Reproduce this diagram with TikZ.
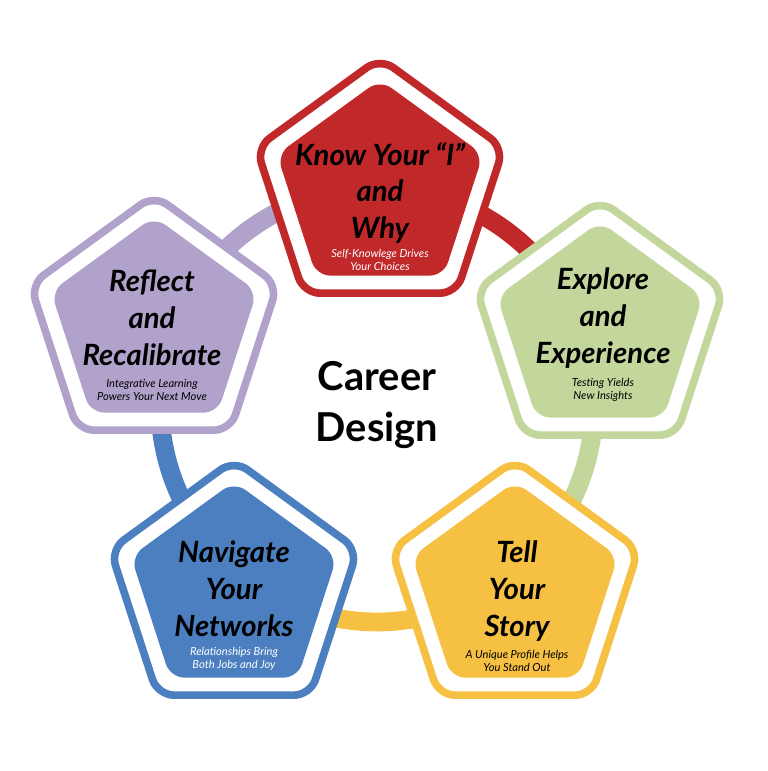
\documentclass[tikz,border=0pt]{standalone}
\usepackage{fontspec}
\setmainfont{Lato}
\usetikzlibrary{shapes.geometric}
\definecolor{knowred}{HTML}{C0282A}
\definecolor{exgreen}{HTML}{C3D79D}
\definecolor{tellyellow}{HTML}{F6C143}
\definecolor{navblue}{HTML}{4B7FC0}
\definecolor{refpurple}{HTML}{B1A2CB}
\tikzset{
  ring/.style={line width=16pt},
  petalout/.style={regular polygon,regular polygon sides=5,rounded corners=14pt,line width=6.5pt,fill=white,minimum size=7.8cm,inner sep=0pt},
  petalin/.style={regular polygon,regular polygon sides=5,rounded corners=12pt,fill=#1,minimum size=6.5cm,inner sep=0pt},
  ttl/.style={align=center,font=\fontsize{25}{31.5}\selectfont\bfseries\itshape},
  subttl/.style={align=center,font=\fontsize{9.5}{11.5}\selectfont\itshape},
}
\begin{document}
\begin{tikzpicture}[x=0.03cm,y=0.03cm]
\useasboundingbox (0,0) rectangle (768,771);
\coordinate (c) at (377,366);
\draw[ring,knowred] ([shift={(90:217)}]c) arc[start angle=90,end angle=18,radius=217];
\draw[ring,exgreen] ([shift={(18:217)}]c) arc[start angle=18,end angle=-54,radius=217];
\draw[ring,tellyellow] ([shift={(-54:217)}]c) arc[start angle=-54,end angle=-126,radius=217];
\draw[ring,navblue] ([shift={(-126:217)}]c) arc[start angle=-126,end angle=-198,radius=217];
\draw[ring,refpurple] ([shift={(162:217)}]c) arc[start angle=162,end angle=90,radius=217];
\node[petalout,draw=knowred] (know) at (380,583) {};
\node[petalin=knowred] at (know.center) {};
\node[petalout,draw=exgreen] (explore) at (600,441) {};
\node[petalin=exgreen] at (explore.center) {};
\node[petalout,draw=tellyellow] (tell) at (515,181) {};
\node[petalin=tellyellow] at (tell.center) {};
\node[petalout,draw=navblue] (navigate) at (234,181) {};
\node[petalin=navblue] at (navigate.center) {};
\node[petalout,draw=refpurple] (reflect) at (154,446) {};
\node[petalin=refpurple] at (reflect.center) {};
\node[ttl] (knowtxt) at (380,578) {Know Your “I”\\and\\Why};
\node[subttl,text=white] (knowsub) at (380,511) {Self-Knowlege Drives\\Your Choices};
\node[ttl] (exploretxt) at (603,453) {Explore\\and\\Experience};
\node[subttl] (exploresub) at (603,381) {Testing Yields\\New Insights};
\node[ttl] (telltxt) at (517,180) {Tell\\Your\\Story};
\node[subttl] (tellsub) at (517,110) {A Unique Profile Helps\\You Stand Out};
\node[ttl] (navigatetxt) at (234,182) {Navigate\\Your\\Networks};
\node[subttl,text=white] (navigatesub) at (234,112) {Relationships Bring\\Both Jobs and Joy};
\node[ttl] (reflecttxt) at (152,453) {Reflect\\and\\Recalibrate};
\node[subttl] (reflectsub) at (152,381) {Integrative Learning\\Powers Your Next Move};
\node[align=center,font=\fontsize{34}{44}\selectfont\bfseries] (career) at (377,366) {Career\\Design};
\end{tikzpicture}
\end{document}
